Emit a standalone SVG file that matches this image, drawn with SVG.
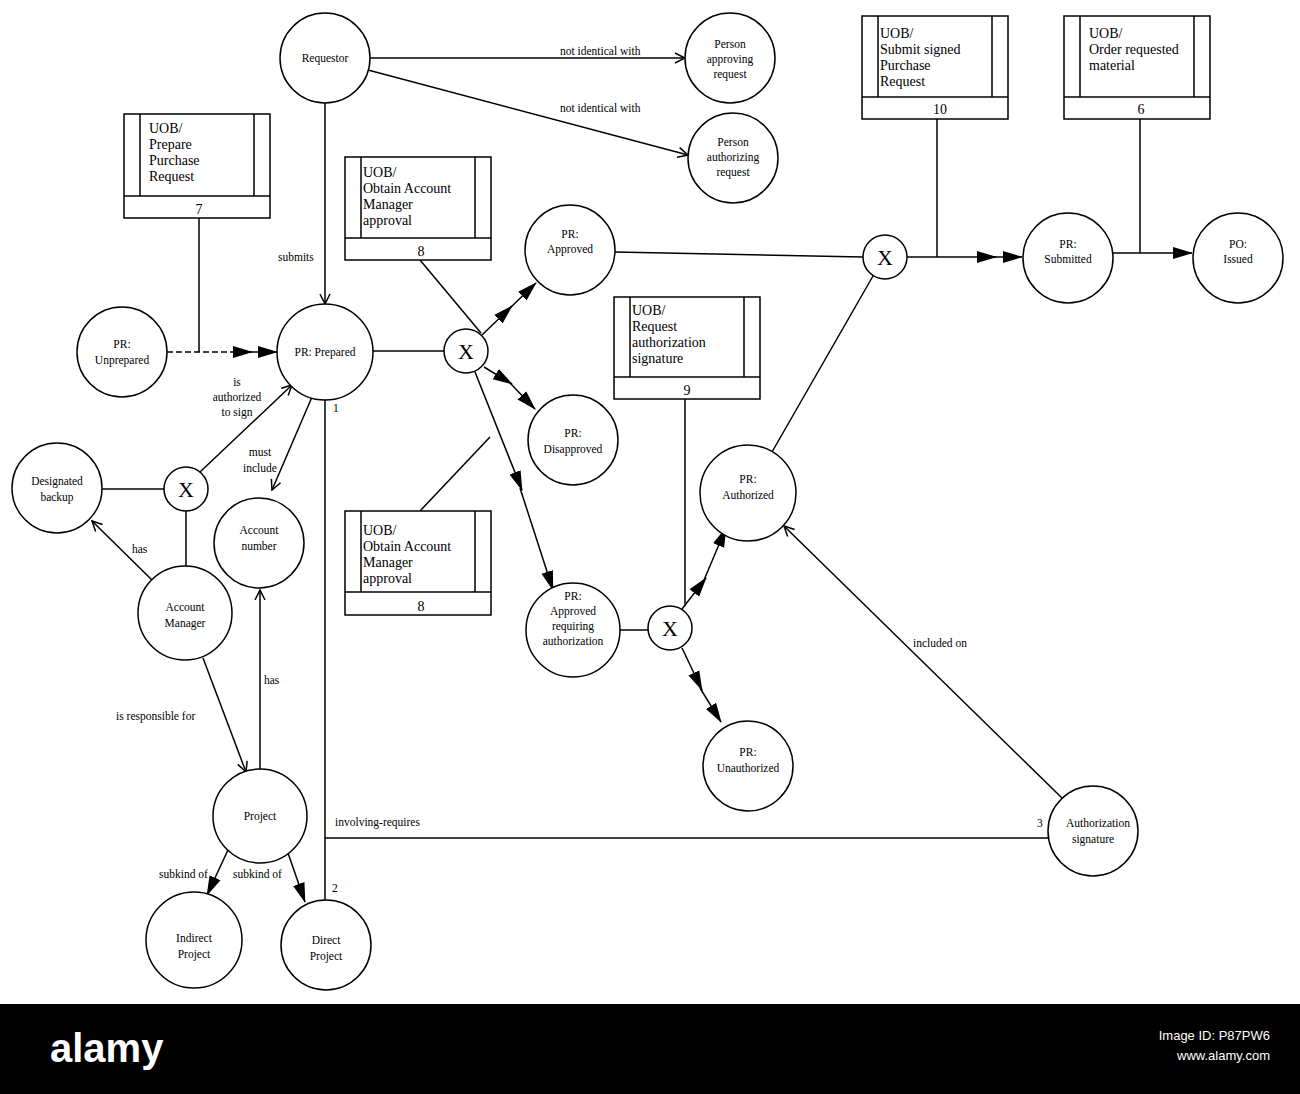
<svg xmlns="http://www.w3.org/2000/svg" width="1300" height="1094" viewBox="0 0 1300 1094">
<style>
text{font-family:"Liberation Serif","DejaVu Serif",serif;fill:#000}
.n circle{fill:#fff;stroke:#000;stroke-width:1.5}
.n text{font-size:11.5px;text-anchor:middle}
.x text{font-size:22px;text-anchor:middle}
.b rect{fill:#fff;stroke:#000;stroke-width:1.5}
.b line{stroke:#000;stroke-width:1.5}
.b text{font-size:14px}
.b .num{text-anchor:middle}
#conn line{stroke:#000;stroke-width:1.5}
.lbl{font-size:11.5px}
.wm{fill:#fff;font-family:"Liberation Sans",sans-serif}
</style>
<defs>
<marker id="o" viewBox="0 0 12 12" refX="11" refY="6" markerWidth="12" markerHeight="12" markerUnits="userSpaceOnUse" orient="auto"><path d="M1,1 L11,6 L1,11" fill="none" stroke="#000" stroke-width="1.5"/></marker>
<marker id="f" viewBox="0 0 20 14" refX="19" refY="7" markerWidth="20" markerHeight="14" markerUnits="userSpaceOnUse" orient="auto"><path d="M0,1 L20,7 L0,13 Z" fill="#000"/></marker>
</defs>
<rect width="1300" height="1094" fill="#fff"/>
<g id="conn">
<line x1="370" y1="58" x2="685" y2="58" marker-end="url(#o)"/>
<line x1="368" y1="70" x2="688" y2="155" marker-end="url(#o)"/>
<line x1="325" y1="103" x2="325" y2="304" marker-end="url(#o)"/>
<line x1="199" y1="218" x2="199" y2="352"/>
<line x1="167" y1="352" x2="252" y2="352" stroke-dasharray="6 3" marker-end="url(#f)"/>
<line x1="250" y1="352" x2="277" y2="352" marker-end="url(#f)"/>
<line x1="373" y1="351" x2="444" y2="351"/>
<line x1="482" y1="335" x2="512" y2="306" marker-end="url(#f)"/>
<line x1="510" y1="308" x2="536" y2="283" marker-end="url(#f)"/>
<line x1="484" y1="367" x2="512" y2="384" marker-end="url(#f)"/>
<line x1="510" y1="383" x2="535" y2="409" marker-end="url(#f)"/>
<line x1="475" y1="372" x2="522" y2="490" marker-end="url(#f)"/>
<line x1="520" y1="488" x2="553" y2="590" marker-end="url(#f)"/>
<line x1="420" y1="260" x2="481" y2="333"/>
<line x1="420" y1="511" x2="490" y2="437"/>
<line x1="615" y1="252" x2="863" y2="257"/>
<line x1="907" y1="257" x2="996" y2="257" marker-end="url(#f)"/>
<line x1="994" y1="257" x2="1022" y2="257" marker-end="url(#f)"/>
<line x1="937" y1="119" x2="937" y2="257"/>
<line x1="1113" y1="253" x2="1192" y2="253" marker-end="url(#f)"/>
<line x1="1140" y1="119" x2="1140" y2="253"/>
<line x1="772" y1="452" x2="873" y2="276"/>
<line x1="620" y1="630" x2="648" y2="630"/>
<line x1="682" y1="609" x2="706" y2="578" marker-end="url(#f)"/>
<line x1="704" y1="580" x2="726" y2="528" marker-end="url(#f)"/>
<line x1="682" y1="648" x2="702" y2="690" marker-end="url(#f)"/>
<line x1="700" y1="688" x2="721" y2="722" marker-end="url(#f)"/>
<line x1="685" y1="399" x2="685" y2="606"/>
<line x1="1062" y1="798" x2="784" y2="526" marker-end="url(#o)"/>
<line x1="325" y1="838" x2="1048" y2="838"/>
<line x1="325" y1="400" x2="325" y2="900"/>
<line x1="312" y1="397" x2="272" y2="490" marker-end="url(#o)"/>
<line x1="200" y1="472" x2="292" y2="385" marker-end="url(#o)"/>
<line x1="164" y1="489" x2="102" y2="489"/>
<line x1="186" y1="566" x2="186" y2="511"/>
<line x1="152" y1="580" x2="92" y2="521" marker-end="url(#o)"/>
<line x1="203" y1="658" x2="246" y2="772" marker-end="url(#o)"/>
<line x1="260" y1="769" x2="260" y2="590" marker-end="url(#o)"/>
<line x1="228" y1="850" x2="207" y2="895" marker-end="url(#f)"/>
<line x1="288" y1="853" x2="305" y2="902" marker-end="url(#f)"/>
<text class="lbl" x="560" y="55">not identical with</text>
<text class="lbl" x="560" y="112">not identical with</text>
<text class="lbl" x="278" y="261">submits</text>
<text class="lbl" x="913" y="647">included on</text>
<text class="lbl" x="335" y="826">involving-requires</text>
<text class="lbl" x="1037" y="827">3</text>
<text class="lbl" x="333" y="412">1</text>
<text class="lbl" x="332" y="892">2</text>
<text class="lbl" x="260" y="456" text-anchor="middle">must</text>
<text class="lbl" x="260" y="472" text-anchor="middle">include</text>
<text class="lbl" x="237" y="386" text-anchor="middle">is</text>
<text class="lbl" x="237" y="401" text-anchor="middle">authorized</text>
<text class="lbl" x="237" y="416" text-anchor="middle">to sign</text>
<text class="lbl" x="132" y="553">has</text>
<text class="lbl" x="116" y="720">is responsible for</text>
<text class="lbl" x="264" y="684">has</text>
<text class="lbl" x="159" y="878">subkind of</text>
<text class="lbl" x="233" y="878">subkind of</text>
</g>
<g id="box7" class="b"><rect x="124" y="114" width="146" height="104"/><line x1="140" y1="114" x2="140" y2="196"/><line x1="254" y1="114" x2="254" y2="196"/><line x1="124" y1="196" x2="270" y2="196"/><text x="149" y="133">UOB/</text><text x="149" y="149">Prepare</text><text x="149" y="165">Purchase</text><text x="149" y="181">Request</text><text class="num" x="199" y="214">7</text></g>
<g id="box8a" class="b"><rect x="345" y="157" width="146" height="103"/><line x1="361" y1="157" x2="361" y2="238"/><line x1="475" y1="157" x2="475" y2="238"/><line x1="345" y1="238" x2="491" y2="238"/><text x="363" y="177">UOB/</text><text x="363" y="193">Obtain Account</text><text x="363" y="209">Manager</text><text x="363" y="225">approval</text><text class="num" x="421" y="256">8</text></g>
<g id="box10" class="b"><rect x="862" y="16" width="146" height="103"/><line x1="878" y1="16" x2="878" y2="97"/><line x1="992" y1="16" x2="992" y2="97"/><line x1="862" y1="97" x2="1008" y2="97"/><text x="880" y="38">UOB/</text><text x="880" y="54">Submit signed</text><text x="880" y="70">Purchase</text><text x="880" y="86">Request</text><text class="num" x="940" y="114">10</text></g>
<g id="box6" class="b"><rect x="1064" y="16" width="146" height="103"/><line x1="1080" y1="16" x2="1080" y2="97"/><line x1="1194" y1="16" x2="1194" y2="97"/><line x1="1064" y1="97" x2="1210" y2="97"/><text x="1089" y="38">UOB/</text><text x="1089" y="54">Order requested</text><text x="1089" y="70">material</text><text class="num" x="1141" y="114">6</text></g>
<g id="box9" class="b"><rect x="614" y="297" width="146" height="102"/><line x1="630" y1="297" x2="630" y2="377"/><line x1="744" y1="297" x2="744" y2="377"/><line x1="614" y1="377" x2="760" y2="377"/><text x="632" y="315">UOB/</text><text x="632" y="331">Request</text><text x="632" y="347">authorization</text><text x="632" y="363">signature</text><text class="num" x="687" y="395">9</text></g>
<g id="box8b" class="b"><rect x="345" y="511" width="146" height="104"/><line x1="361" y1="511" x2="361" y2="592"/><line x1="475" y1="511" x2="475" y2="592"/><line x1="345" y1="592" x2="491" y2="592"/><text x="363" y="535">UOB/</text><text x="363" y="551">Obtain Account</text><text x="363" y="567">Manager</text><text x="363" y="583">approval</text><text class="num" x="421" y="611">8</text></g>
<g id="requestor" class="n"><circle cx="325" cy="58" r="45"/><text x="325" y="62">Requestor</text></g>
<g id="papprove" class="n"><circle cx="730" cy="58" r="45"/><text x="730" y="48">Person</text><text x="730" y="63">approving</text><text x="730" y="78">request</text></g>
<g id="pauth" class="n"><circle cx="733" cy="158" r="45"/><text x="733" y="146">Person</text><text x="733" y="161">authorizing</text><text x="733" y="176">request</text></g>
<g id="unprep" class="n"><circle cx="122" cy="352" r="45"/><text x="122" y="348">PR:</text><text x="122" y="364">Unprepared</text></g>
<g id="prep" class="n"><circle cx="325" cy="352" r="48"/><text x="325" y="356">PR:  Prepared</text></g>
<g id="x1" class="n x"><circle cx="466" cy="351" r="22"/><text x="466" y="359">X</text></g>
<g id="approved" class="n"><circle cx="570" cy="250" r="45"/><text x="570" y="238">PR:</text><text x="570" y="253">Approved</text></g>
<g id="disapproved" class="n"><circle cx="573" cy="440" r="45"/><text x="573" y="437">PR:</text><text x="573" y="453">Disapproved</text></g>
<g id="x2" class="n x"><circle cx="885" cy="257" r="22"/><text x="885" y="265">X</text></g>
<g id="submitted" class="n"><circle cx="1068" cy="258" r="45"/><text x="1068" y="248">PR:</text><text x="1068" y="263">Submitted</text></g>
<g id="issued" class="n"><circle cx="1238" cy="258" r="45"/><text x="1238" y="248">PO:</text><text x="1238" y="263">Issued</text></g>
<g id="authorized" class="n"><circle cx="748" cy="493" r="48"/><text x="748" y="483">PR:</text><text x="748" y="499">Authorized</text></g>
<g id="appreq" class="n"><circle cx="573" cy="630" r="47"/><text x="573" y="600">PR:</text><text x="573" y="615">Approved</text><text x="573" y="630">requiring</text><text x="573" y="645">authorization</text></g>
<g id="x3" class="n x"><circle cx="670" cy="628" r="22"/><text x="670" y="636">X</text></g>
<g id="unauth" class="n"><circle cx="748" cy="766" r="45"/><text x="748" y="756">PR:</text><text x="748" y="772">Unauthorized</text></g>
<g id="backup" class="n"><circle cx="57" cy="488" r="45"/><text x="57" y="485">Designated</text><text x="57" y="501">backup</text></g>
<g id="x4" class="n x"><circle cx="186" cy="489" r="22"/><text x="186" y="497">X</text></g>
<g id="accnum" class="n"><circle cx="259" cy="543" r="45"/><text x="259" y="534">Account</text><text x="259" y="550">number</text></g>
<g id="accmgr" class="n"><circle cx="185" cy="613" r="47"/><text x="185" y="611">Account</text><text x="185" y="627">Manager</text></g>
<g id="project" class="n"><circle cx="260" cy="816" r="47"/><text x="260" y="820">Project</text></g>
<g id="indirect" class="n"><circle cx="194" cy="940" r="48"/><text x="194" y="942">Indirect</text><text x="194" y="958">Project</text></g>
<g id="direct" class="n"><circle cx="326" cy="945" r="45"/><text x="326" y="944">Direct</text><text x="326" y="960">Project</text></g>
<g id="authsig" class="n"><circle cx="1093" cy="831" r="45"/><text x="1098" y="827">Authorization</text><text x="1093" y="843">signature</text></g>
<rect x="0" y="1004" width="1300" height="90" fill="#000"/>
<text class="wm" x="50" y="1062" font-size="40" font-weight="bold">alamy</text>
<text class="wm" x="1270" y="1040" text-anchor="end" font-size="13">Image ID: P87PW6</text>
<text class="wm" x="1270" y="1060" text-anchor="end" font-size="13">www.alamy.com</text>
</svg>
